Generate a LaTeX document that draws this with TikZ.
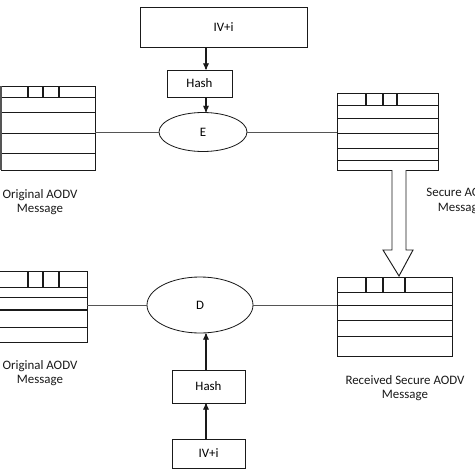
\documentclass[tikz,border=0pt]{standalone}
\usepackage{fontspec}
\setmainfont{Carlito}
\usepackage{xcolor}
\usepackage{tikz}
\usetikzlibrary{arrows,calc,fit,shapes.geometric}
\tikzset{>=stealth'}
\definecolor{ink}{HTML}{1A1A1A}
\definecolor{wire}{HTML}{555555}
\newcommand{\lbl}{\fontsize{11}{12.5}\selectfont}
\tikzset{
  msgframe/.style={draw=ink,line width=0.8pt,inner sep=0pt},
  row/.style={ink,line width=0.7pt},
  keybox/.style={draw=ink,line width=0.7pt,inner sep=0pt,font=\lbl},
  cipher/.style={ellipse,draw=ink,line width=0.7pt,inner sep=0pt,font=\lbl},
  link/.style={wire,line width=0.6pt},
  flow/.style={->,ink,line width=1pt},
  caption/.style={align=center,font=\lbl,text=ink}
}
% message block: name, x1, y1, x2, y2, row lines
\newcommand{\msgbox}[6]{%
  \node[msgframe,fit={(#2,#3) (#4,#5)}] (#1) {};
  \foreach \ry in {#6} \draw[row] (#2,\ry) -- (#4,\ry);
}
\newcommand{\ticks}[3]{\foreach \tx in {#1} \draw[ink,line width=1pt] (\tx,#2) -- (\tx,#3);}

\begin{document}
\begin{tikzpicture}[x=0.03cm,y=-0.03cm]
\useasboundingbox (0,0) rectangle (474,474);
\fill[white] (0,0) rectangle (474,474);
\clip (0,0) rectangle (474,474);
% encrypt side
\node[keybox,fit={(140,7) (307,47)}] (ivtop) {};
\node[font=\lbl] at (ivtop) {IV+i};
\node[keybox,fit={(167,70) (232,97)}] (hashtop) {};
\node[font=\lbl] at (hashtop) {Hash};
\node[cipher,minimum width=2.64cm,minimum height=1.17cm] (enc) at (203,132) {E};
\msgbox{omsgA}{1}{86}{95}{170}{97,112,133,153}
\ticks{28,43,59}{86}{97}
\draw[wire,line width=1.6pt] (1,86) -- (1,170);
\msgbox{smsg}{337}{93}{438}{170}{105,118,133,148,160}
\ticks{366,383,397}{93}{105}
\draw[flow] (ivtop.south -| 206,0) -- (hashtop.north -| 206,0);
\draw[flow] (hashtop.south -| 206,0) -- (enc.north -| 206,0);
\draw[link] (omsgA.east |- enc) -- (enc.west);
\draw[link] (enc.east) -- (smsg.west |- enc);
\node[caption] (capA) at (40,202) {Original AODV\\Message};
\node[caption] (capS) at (461,201) {Secure AODV\\Message};
% transfer
\draw[ink,line width=0.8pt,fill=white] (392,170) -- (392,250) -- (383,250) -- (399,276)
  -- (413,250) -- (406,250) -- (406,170);
% decrypt side
\msgbox{rmsg}{337}{277}{452}{356}{292,305,320,336}
\ticks{366,383}{277}{292}
\draw[ink,line width=1.5pt] (405,277) -- (405,292);
\msgbox{omsgB}{-5}{271}{87}{342}{287,297,327}
\draw[ink,line width=1.3pt] (-5,310) -- (87,310);
\ticks{28,43,59}{271}{287}
\node[cipher,minimum width=3.18cm,minimum height=1.68cm] (dec) at (200,305) {D};
\draw[link] (omsgB.east |- dec) -- (dec.west);
\draw[link] (dec.east) -- (rmsg.west |- dec);
\node[keybox,fit={(172,370) (245,403)}] (hashbot) {};
\node[font=\lbl] at (hashbot) {Hash};
\node[keybox,fit={(172,439) (245,468)}] (ivbot) {};
\node[font=\lbl] at (ivbot) {IV+i};
\draw[flow] (ivbot.north -| 206,0) -- (hashbot.south -| 206,0);
\draw[flow] (hashbot.north -| 206,0) -- (dec.south -| 206,0);
\node[caption] (capB) at (40,373) {Original AODV\\Message};
\node[caption] (capR) at (405,388) {Received Secure AODV\\Message};
\end{tikzpicture}
\end{document}
